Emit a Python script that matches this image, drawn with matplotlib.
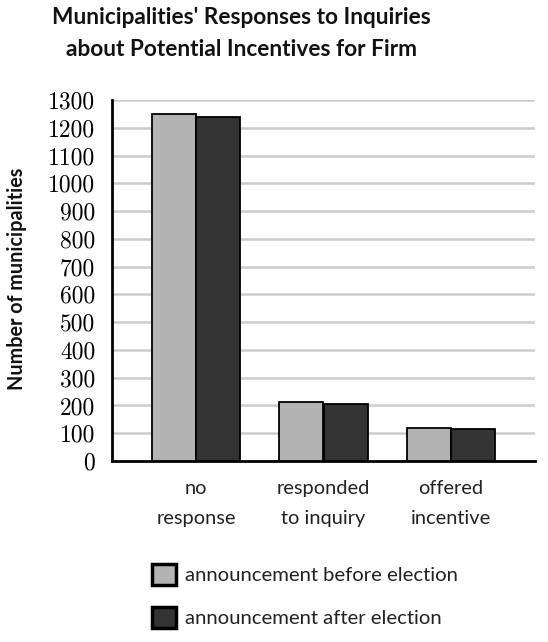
import matplotlib
matplotlib.use("Agg")
import matplotlib.pyplot as plt
import numpy as np
from matplotlib.patches import Patch

categories = ["no\nresponse", "responded\nto inquiry", "offered\nincentive"]
before_election = [1250, 211, 120]
after_election = [1238, 207, 115]
series_labels = ["announcement before election", "announcement after election"]
yticks = list(range(0, 1301, 100))

c_before = "#b3b3b3"
c_after = "#333333"

fig = plt.figure(figsize=(5.48, 6.42), dpi=100)
ax = fig.add_axes([112/548, 1-461/642, (535-112)/548, (461-100)/642])

x = np.arange(len(categories))
w = 0.346
ax.bar(x - w/2, before_election, w, color=c_before, edgecolor="black", linewidth=1.3, zorder=3)
ax.bar(x + w/2, after_election, w, color=c_after, edgecolor="black", linewidth=1.3, zorder=3)

ax.set_xlim(-0.66, 2.66)
ax.set_ylim(0, 1300)
ax.set_yticks(yticks)
ax.set_yticklabels([str(t) for t in yticks], fontfamily="cmr10", fontsize=17)
ax.yaxis.grid(True, color="#cccccc", linewidth=1.8, zorder=0)
ax.set_axisbelow(True)
ax.tick_params(axis="y", length=0, pad=12)
ax.tick_params(axis="x", length=0, pad=14)
ax.set_xticks(x)
ax.set_xticklabels(categories, fontfamily="Lato", fontsize=14.4, linespacing=1.9, color="#222222")
for s in ["top", "right"]:
    ax.spines[s].set_visible(False)
for s in ["left", "bottom"]:
    ax.spines[s].set_linewidth(2)
    ax.spines[s].set_color("black")

fig.text(17/548, 1-279/642, "Number of municipalities", rotation=90, ha="center", va="center",
         fontfamily="Lato", fontweight="bold", fontsize=14.2, color="#111111")

fig.text(241/548, 1-18/642, "Municipalities' Responses to Inquiries", ha="center", va="center",
         fontfamily="Lato", fontweight="bold", fontsize=16.3, color="#111111")
fig.text(241/548, 1-50/642, "about Potential Incentives for Firm", ha="center", va="center",
         fontfamily="Lato", fontweight="bold", fontsize=16.3, color="#111111")

handles = [Patch(facecolor=c_before, edgecolor="black", linewidth=2.5),
           Patch(facecolor=c_after, edgecolor="black", linewidth=2.5)]
fig.legend(handles, series_labels, loc="upper left", bbox_to_anchor=(152/548, 1-564/642),
           frameon=False, prop={"family": "Lato", "size": 14.6}, handlelength=1.2, handleheight=1.2,
           labelspacing=1.1, handletextpad=0.45, borderpad=0, borderaxespad=0, labelcolor="#222222")

fig.savefig("out.png", dpi=100)
